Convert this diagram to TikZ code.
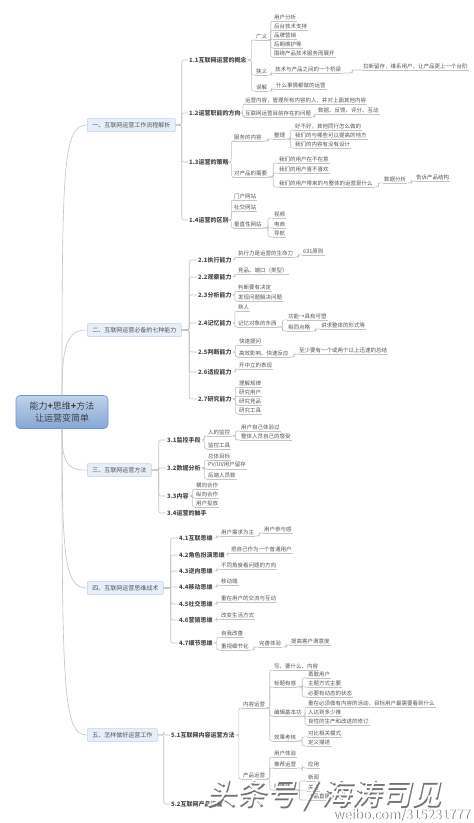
\documentclass[tikz,border=0pt]{standalone}
\usepackage{fontspec}
\setmainfont{Noto Sans CJK SC}
\usetikzlibrary{calc}
\definecolor{linkGray} {HTML}{C4C4C4}
\definecolor{inkGray}  {HTML}{555555}
\definecolor{boxBlue}  {HTML}{E6EEF9}
\definecolor{boxEdge}  {HTML}{C2D2EA}
\definecolor{rootTop}  {HTML}{BED2EC}
\definecolor{rootBot}  {HTML}{86A7D4}
\definecolor{rootEdge} {HTML}{7598C9}
\tikzset{
  linkline/.style={draw=linkGray,line width=0.6pt,rounded corners=2pt},
  rootnode/.style={rectangle,rounded corners=4pt,draw=rootEdge,line width=0.6pt,
    top color=rootTop,bottom color=rootBot,text=black!75,align=center,
    minimum width=92pt,minimum height=33pt,font=\fontsize{9}{11.5}\selectfont},
  branchbox/.style={rectangle,rounded corners=1pt,draw=boxEdge,line width=0.5pt,fill=boxBlue,
    text=inkGray,anchor=west,minimum height=13pt,inner xsep=5pt,font=\fontsize{6}{7}\selectfont},
  subhead/.style={anchor=west,inner sep=1pt,text=black!70,font=\bfseries\fontsize{6}{7}\selectfont},
  leaftext/.style={anchor=west,inner xsep=1pt,inner ysep=1.2pt,text=inkGray,
    font=\fontsize{5.5}{6}\selectfont,
    append after command={(\tikzlastnode.south west) edge[linkline] (\tikzlastnode.south east)}},
  wmtext/.style={font=\fontsize{30}{30}\selectfont,xslant=0.22,transform shape},
  wmsmall/.style={font=\fontsize{13}{13}\selectfont},
}

\begin{document}
\begin{tikzpicture}[x=1pt,y=-1pt]

\useasboundingbox (0,0) rectangle (474,823);
\fill[white] (0,0) rectangle (474,823);

% root and main branches
\node[rootnode] (root) at (62,412) {能力\textbf{+}思维\textbf{+}方法\\让运营变简单};

\node[branchbox] (b1) at (87,125) {一、互联网运营工作流程解析};
\node[branchbox] (b2) at (87,330) {二、互联网运营必备的七种能力};
\node[branchbox] (b3) at (87,470) {三、互联网运营方法};
\node[branchbox] (b4) at (87,588) {四、互联网运营思维战术};
\node[branchbox] (b5) at (87,735) {五、怎样做好运营工作};

\draw[linkline] (root.north) .. controls +(0,-230) and +(-24,0) .. (b1.west);
\draw[linkline] (root.north) .. controls +(0,-50) and +(-20,0) .. (b2.west);
\draw[linkline] (root.south) .. controls +(0,35) and +(-20,0) .. (b3.west);
\draw[linkline] (root.south) .. controls +(0,130) and +(-22,0) .. (b4.west);
\draw[linkline] (root.south) .. controls +(0,260) and +(-24,0) .. (b5.west);

% 一
\node[subhead] (s11) at (188,60) {1.1互联网运营的概念};
\node[subhead] (s12) at (188,113) {1.2运营职能的方向};
\node[subhead] (s13) at (188,162) {1.3运营的策略};
\node[subhead] (s14) at (188,220) {1.4运营的区别};

\node[leaftext] (g1) at (255,36) {广义};
\node[leaftext] (g11) at (273,17) {用户分析};
\node[leaftext] (g12) at (273,26) {后台技术支持};
\node[leaftext] (g13) at (273,35) {品牌营销};
\node[leaftext] (g14) at (273,44) {后期维护等};
\node[leaftext] (g15) at (273,53) {围绕产品技术服务而展开};
\node[leaftext] (g2) at (255,71) {狭义};
\node[leaftext] (g21) at (274,69) {技术与产品之间的一个桥梁};
\node[leaftext] (g211) at (362,66) {拉新留存，维系用户，让产品更上一个台阶};
\node[leaftext] (g3) at (255,87) {误解};
\node[leaftext] (g31) at (275,85) {什么事情都做的运营};

\node[leaftext] (h1) at (244,100) {运营内容，管理所有内容的人，并对上面其他内容};
\node[leaftext] (h2) at (244,113) {互联网运营目前存在的问题};
\node[leaftext] (h21) at (317,110) {数据、反馈、评分、互动};

\node[leaftext] (i1) at (233,137) {服务的内容};
\node[leaftext] (i11) at (273,135) {整理};
\node[leaftext] (i111) at (294,126) {好不好，其他同行怎么做的};
\node[leaftext] (i112) at (294,135) {我们的与哪些可以提高的地方};
\node[leaftext] (i113) at (294,144) {我们的内容有没有设计};
\node[leaftext] (i2) at (233,173) {对产品的需要};
\node[leaftext] (i21) at (278,159) {我们的用户在不在意};
\node[leaftext] (i22) at (278,169) {我们的用户喜不喜欢};
\node[leaftext] (i23) at (278,183) {我们的用户带来的与整体的运营是什么};
\node[leaftext] (i231) at (383,179) {数据分析};
\node[leaftext] (i2311) at (415,177) {告诉产品结构};

\node[leaftext] (j1) at (233,196) {门户网站};
\node[leaftext] (j2) at (233,207) {社交网站};
\node[leaftext] (j3) at (233,224) {垂直性网站};
\node[leaftext] (j31) at (273,214) {视频};
\node[leaftext] (j32) at (273,224) {电商};
\node[leaftext] (j33) at (273,233) {导航};

% 二
\node[subhead] (s21) at (197,260) {2.1执行能力};
\node[subhead] (s22) at (197,277) {2.2观察能力};
\node[subhead] (s23) at (197,295) {2.3分析能力};
\node[subhead] (s24) at (197,323) {2.4记忆能力};
\node[subhead] (s25) at (197,352) {2.5判断能力};
\node[subhead] (s26) at (197,372) {2.6适应能力};
\node[subhead] (s27) at (197,399) {2.7研究能力};

\node[leaftext] (k11) at (237,253) {执行力是运营的生命力};
\node[leaftext] (k111) at (302,251) {631原则};
\node[leaftext] (k21) at (237,270) {竞品、端口（类型）};
\node[leaftext] (k31) at (237,287) {判断要有决定};
\node[leaftext] (k32) at (237,297) {发现问题解决问题};
\node[leaftext] (k41) at (237,307) {熟人};
\node[leaftext] (k42) at (237,323) {记忆对象的东西};
\node[leaftext] (k421) at (287,316) {功能→具有可塑};
\node[leaftext] (k422) at (287,327) {相同点略};
\node[leaftext] (k4221) at (320,325) {讲求整体的形式等};
\node[leaftext] (k51) at (238,341) {快速提问};
\node[leaftext] (k52) at (238,353) {高效影响、快速反应};
\node[leaftext] (k521) at (298,350) {至少要有一个或两个以上迅速的总结};
\node[leaftext] (k61) at (238,365) {开中立的表现};
\node[leaftext] (k71) at (238,383) {理解规律};
\node[leaftext] (k72) at (238,392) {研究用户};
\node[leaftext] (k73) at (238,401) {研究竞品};
\node[leaftext] (k74) at (238,410) {研究工具};

% 三
\node[subhead] (s31) at (166,440) {3.1监控手段};
\node[subhead] (s32) at (166,468) {3.2数据分析};
\node[subhead] (s33) at (166,496) {3.3内容};
\node[subhead] (s34) at (166,513) {3.4运营的触手};

\node[leaftext] (l11) at (207,432) {人的监控};
\node[leaftext] (l111) at (240,427) {用户自己体验过};
\node[leaftext] (l112) at (240,436) {整体人员自己的感受};
\node[leaftext] (l12) at (207,445) {监控工具};
\node[leaftext] (l21) at (207,456) {总体目标};
\node[leaftext] (l22) at (207,465) {PV/UV用户留存};
\node[leaftext] (l23) at (207,475) {后端人员数};
\node[leaftext] (l31) at (195,485) {横向合作};
\node[leaftext] (l32) at (195,494) {纵向合作};
\node[leaftext] (l33) at (195,503) {用户投放};

% 四
\node[subhead] (s41) at (178,538) {4.1互联思维};
\node[subhead] (s42) at (178,555) {4.2角色扮演思维};
\node[subhead] (s43) at (178,571) {4.3逆向思维};
\node[subhead] (s44) at (178,587) {4.4移动思维};
\node[subhead] (s45) at (178,604) {4.5社交思维};
\node[subhead] (s46) at (178,620) {4.6营销思维};
\node[subhead] (s47) at (178,643) {4.7细节思维};

\node[leaftext] (m11) at (220,532) {用户需求为主};
\node[leaftext] (m111) at (263,529) {用户参与感};
\node[leaftext] (m21) at (230,549) {把自己作为一个普通用户};
\node[leaftext] (m31) at (220,565) {不同角度看问题的方向};
\node[leaftext] (m41) at (220,581) {移动端};
\node[leaftext] (m51) at (220,598) {重在用户的交流与互动};
\node[leaftext] (m61) at (220,615) {改变生活方式};
\node[leaftext] (m71) at (220,633) {自我改善};
\node[leaftext] (m72) at (220,646) {重视细节化};
\node[leaftext] (m721) at (258,643) {完善体验};
\node[leaftext] (m7211) at (290,641) {提高客户满意度};

% 五
\node[subhead] (s51) at (170,735) {5.1互联网内容运营方法};
\node[subhead] (s52) at (170,804) {5.2互联网产品运营};

\node[leaftext] (n1) at (242,704) {内容运营};
\node[leaftext] (n11) at (273,666) {写、要什么、内容};
\node[leaftext] (n12) at (273,683) {标题有感};
\node[leaftext] (n121) at (307,674) {勇敢用户};
\node[leaftext] (n122) at (307,683) {主题方式主要};
\node[leaftext] (n123) at (307,693) {必要有动态的状态};
\node[leaftext] (n13) at (273,712) {编辑基本功};
\node[leaftext] (n131) at (307,703) {重在必须做有内容的活动，目标用户最需要看到什么};
\node[leaftext] (n132) at (307,712) {人达到多少推};
\node[leaftext] (n133) at (307,721) {良性的生产和改进的修订};
\node[leaftext] (n14) at (273,737) {效果考核};
\node[leaftext] (n141) at (307,733) {对比相关模式};
\node[leaftext] (n142) at (307,742) {定义描述};
\node[leaftext] (n2) at (242,775) {产品运营};
\node[leaftext] (n21) at (273,753) {用户体验};
\node[leaftext] (n22) at (273,764) {推荐运营};
\node[leaftext] (n221) at (307,764) {应用};
\node[leaftext] (n23) at (273,786) {新媒体};
\node[leaftext] (n231) at (307,777) {新闻};
\node[leaftext] (n232) at (307,787) {关注};
\node[leaftext] (n233) at (307,796) {产品直播};

% connectors
\foreach \a/\b in {b1/s11,b1/s12,b1/s13,b1/s14,
    b2/s21,b2/s22,b2/s23,b2/s24,b2/s25,b2/s26,b2/s27,
    b3/s31,b3/s32,b3/s33,b3/s34,
    b4/s41,b4/s42,b4/s43,b4/s44,b4/s45,b4/s46,b4/s47,
    b5/s51,b5/s52}
  \draw[linkline] (\a.east) -| ($(\a.east)!.5!(\b.west)$) |- (\b.west);

\foreach \a/\b in {s11/g1,s11/g2,s11/g3,s12/h1,s12/h2,s13/i1,s13/i2,
    s14/j1,s14/j2,s14/j3,s21/k11,s22/k21,s23/k31,s23/k32,s24/k41,s24/k42,
    s25/k51,s25/k52,s26/k61,s27/k71,s27/k72,s27/k73,s27/k74,
    s31/l11,s31/l12,s32/l21,s32/l22,s32/l23,s33/l31,s33/l32,s33/l33,
    s41/m11,s42/m21,s43/m31,s44/m41,s45/m51,s46/m61,s47/m71,s47/m72,
    s51/n1,s51/n2}
  \draw[linkline] (\a.east) -| ($(\a.east)!.5!(\b.south west)$) |- (\b.south west);

\foreach \a/\b in {g1/g11,g1/g12,g1/g13,g1/g14,g1/g15,g2/g21,g21/g211,g3/g31,
    h2/h21,i1/i11,i11/i111,i11/i112,i11/i113,i2/i21,i2/i22,i2/i23,
    i23/i231,i231/i2311,j3/j31,j3/j32,j3/j33,k11/k111,k42/k421,k42/k422,
    k422/k4221,k52/k521,l11/l111,l11/l112,m11/m111,m72/m721,m721/m7211,
    n1/n11,n1/n12,n1/n13,n1/n14,n12/n121,n12/n122,n12/n123,
    n13/n131,n13/n132,n13/n133,n14/n141,n14/n142,
    n2/n21,n2/n22,n2/n23,n22/n221,n23/n231,n23/n232,n23/n233}
  \draw[linkline] (\a.south east) -| ($(\a.south east)!.5!(\b.south west)$) |- (\b.south west);

% watermark
\node[wmtext,text=black!55] (wmshade) at (327.5,796.5) {头条号 / 海涛司见};
\node[wmtext,text=white] (wmfront) at (326,795) {头条号 / 海涛司见};
\node[wmsmall,text=black!50] (wbshade) at (403,815.5) {weibo.com/315231777};
\node[wmsmall,text=white] (wbfront) at (402,815) {weibo.com/315231777};

\end{tikzpicture}
\end{document}
